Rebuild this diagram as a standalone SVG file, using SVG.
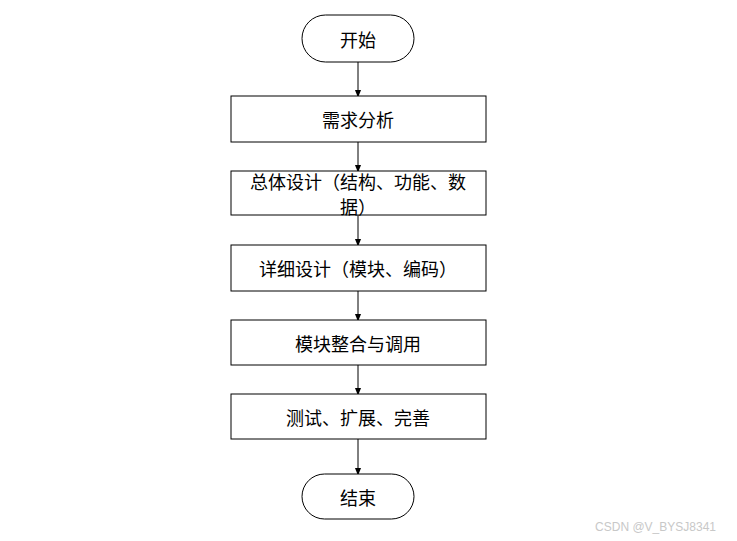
<svg xmlns="http://www.w3.org/2000/svg" width="737" height="541" viewBox="0 0 737 541">
<style>
.box{fill:#fff;stroke:#000;stroke-width:1}
.t{font-family:"Noto Sans CJK SC","Noto Sans",sans-serif;font-size:18px;font-weight:400;fill:#000;text-anchor:middle;dominant-baseline:central}
.c{stroke:#000;stroke-width:1;fill:none;marker-end:url(#ah)}
</style>
<defs>
<marker id="ah" markerWidth="8" markerHeight="10" refX="8" refY="4" orient="auto" markerUnits="userSpaceOnUse" viewBox="0 0 10 8">
<path d="M0,0 L10,4 L0,8 Z" fill="#000"/>
</marker>
</defs>
<rect width="737" height="541" fill="#fff"/>
<g id="connectors">
<line class="c" x1="358" y1="62" x2="358" y2="96"/>
<line class="c" x1="358" y1="142" x2="358" y2="171"/>
<line class="c" x1="358" y1="215" x2="358" y2="245"/>
<line class="c" x1="358" y1="291" x2="358" y2="320"/>
<line class="c" x1="358" y1="365" x2="358" y2="394"/>
<line class="c" x1="358" y1="439" x2="358" y2="474"/>
</g>
<g id="start">
<rect class="box" x="302" y="15" width="112" height="47" rx="23.5"/>
<text class="t" x="358" y="38.5">开始</text>
</g>
<g id="n1">
<rect class="box" x="231" y="96" width="255" height="46"/>
<text class="t" x="358" y="119">需求分析</text>
</g>
<g id="n2">
<rect class="box" x="231" y="171" width="255" height="44"/>
<text class="t" x="358" y="181">总体设计（结构、功能、数</text>
<text class="t" x="358" y="206">据）</text>
</g>
<g id="n3">
<rect class="box" x="231" y="245" width="255" height="46"/>
<text class="t" x="358" y="268">详细设计（模块、编码）</text>
</g>
<g id="n4">
<rect class="box" x="231" y="320" width="255" height="45"/>
<text class="t" x="358" y="342.5">模块整合与调用</text>
</g>
<g id="n5">
<rect class="box" x="231" y="394" width="255" height="45"/>
<text class="t" x="358" y="416.5">测试、扩展、完善</text>
</g>
<g id="end">
<rect class="box" x="302" y="474" width="112" height="45" rx="22.5"/>
<text class="t" x="358" y="496.5">结束</text>
</g>
<text x="716" y="531" font-family="'Liberation Sans',sans-serif" font-size="12" fill="#c8c8c8" text-anchor="end">CSDN @V_BYSJ8341</text>
</svg>
